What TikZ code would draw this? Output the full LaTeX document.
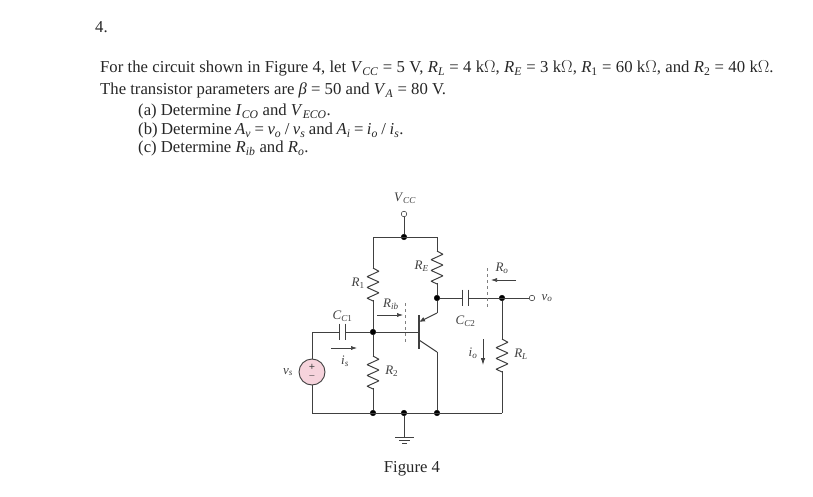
\documentclass[tikz,border=0pt]{standalone}
\usepackage{amsmath, amssymb}
\usepackage{fontspec}
\usepackage{circuitikz}
\usetikzlibrary{arrows.meta}
\setmainfont{Liberation Serif}
\newcommand{\vsub}[2]{\textit{#1}\textsubscript{\textit{#2}}}
\newcommand{\lsub}[2]{{\fontsize{13}{15}\selectfont\color{black!75}\vsub{#1}{#2}}}
\definecolor{srcpink}{HTML}{F6D3DC}
\tikzset{
  txt/.style={anchor=base west, inner sep=0pt, font=\fontsize{16.7}{19}\selectfont, text=black!85},
  lab/.style={inner sep=0pt, text=black!75},
  sign/.style={inner sep=0pt, font=\fontsize{11}{12}\selectfont, text=black!75},
  wire/.style={line width=1pt, color=black!75},
  thin arrow/.style={line width=0.6pt, color=black!75, -{Latex[length=6pt,width=4pt]}},
  probe/.style={line width=0.7pt, color=black!50, dashed}
}
\begin{document}
\begin{tikzpicture}[x=1pt, y=1pt, transform shape]
\useasboundingbox (0, 0) rectangle (813, 496);
\ctikzset{label/align = smart, bipoles/thickness = 1, nodes width = 0.07}
\ctikzset{bipoles/capacitor/width = 0.13, bipoles/capacitor/height = 0.42}
% problem text
\node[txt] (num) at (95, 463) {4.};
\node[txt] (line1) at (100, 423) {\spaceskip=0.26em For the circuit shown in Figure 4, let \vsub{V}{CC} = 5 V, \vsub{R}{L} = 4 k$\Omega$, \vsub{R}{E} = 3 k$\Omega$, \vsub{R}{\upshape 1} = 60 k$\Omega$, and \vsub{R}{\upshape 2} = 40 k$\Omega$.};
\node[txt] (line2) at (100, 401) {The transistor parameters are \textit{β} = 50 and \vsub{V}{A} = 80 V.};
\node[txt] (parta) at (138, 380) {(a) Determine \vsub{I}{CO} and \vsub{V}{ECO}.};
\node[txt] (partb) at (138, 361) {\spaceskip=0.21em (b) Determine \vsub{A}{v} = \vsub{v}{o} / \vsub{v}{s} and \vsub{A}{i} = \vsub{i}{o} / \vsub{i}{s}.};
\node[txt] (partc) at (138, 343) {(c) Determine \vsub{R}{ib} and \vsub{R}{o}.};
% junctions
\node[ocirc] (vcc) at (404, 282) {};
\node[circ] (top) at (404, 259) {};
\coordinate (topl) at (373, 259);
\coordinate (topr) at (437, 259);
\node[circ] (emit) at (437, 198) {};
\node[circ] (base) at (373, 164) {};
\coordinate (barb) at (419, 164);
\coordinate (barh) at (419, 181);
\coordinate (barl) at (419, 147);
\coordinate (emitk) at (437, 183);
\coordinate (emitb) at (419, 174);
\coordinate (collb) at (419, 156);
\coordinate (collk) at (437, 144);
\coordinate (srct) at (312, 164);
\coordinate (srcb) at (312, 83);
\node[circ] (railm) at (373, 83) {};
\node[circ] (railg) at (404, 83) {};
\node[circ] (railc) at (437, 83) {};
\coordinate (railr) at (502, 83);
\node[circ] (outj) at (502, 198) {};
\coordinate (capr) at (494, 198);
\node[ocirc] (out) at (532, 198) {};
\node[circle, draw=black!75, line width=0.9pt, fill=srcpink, minimum size=26pt, inner sep=0pt] (src) at (312, 124) {};
\node[sign] (srcp) at (312, 129) {\textbf{+}};
\node[sign] (srcm) at (312, 118) {−};
% circuit
\draw[wire] (vcc) -- (top);
\draw[wire] (topl) -- (topr);
\draw[wire] (topl) to [R, l_=\lsub{R}{\upshape 1}] (base);
\draw[wire] (topr) to [R, l_=\lsub{R}{E}] (emit);
\draw[wire] (base) to [R, l^=\hspace*{4pt}\lsub{R}{\upshape 2}] (railm);
\draw[wire] (outj) to [R, l^=\hspace*{4pt}\lsub{R}{L}] (railr);
\draw[wire] (srct) to [C, l=\smash{\lsub{C}{C\upshape 1}}] (base);
\draw[wire] (base) -- (barb);
\draw[wire] (emit) to [C, l_=\rule{0pt}{16pt}\lsub{C}{C\upshape 2}] (capr);
\draw[wire] (capr) -- (out);
\draw[wire] (src) -- (srct);
\draw[wire] (src) -- (srcb);
\draw[wire] (srcb) -- (railr);
% transistor
\draw[wire, line width=1.4pt] (barh) -- (barl);
\draw[wire] (emit) -- (emitk);
\draw[wire, -{Latex[length=6pt,width=5pt]}] (emitk) -- (emitb);
\draw[wire] (collb) -- (collk);
\draw[wire] (collk) -- (railc);
% ground
\coordinate (gnd) at (404, 59);
\coordinate (gnd1l) at (395, 59);
\coordinate (gnd1r) at (414, 59);
\coordinate (gnd2l) at (399, 56);
\coordinate (gnd2r) at (410, 56);
\coordinate (gnd3l) at (402, 53);
\coordinate (gnd3r) at (407, 53);
\draw[wire] (railg) -- (gnd);
\draw[wire] (gnd1l) -- (gnd1r);
\draw[wire] (gnd2l) -- (gnd2r);
\draw[wire] (gnd3l) -- (gnd3r);
% probes and arrows
\coordinate (ribt) at (405, 193);
\coordinate (ribb) at (405, 154);
\draw[probe] (ribt) -- (ribb);
\coordinate (rot) at (487, 228);
\coordinate (rob) at (487, 189);
\draw[probe] (rot) -- (rob);
\coordinate (riba) at (377, 181);
\coordinate (ribz) at (403, 181);
\draw[thin arrow] (riba) -- (ribz);
\coordinate (roa) at (516, 216);
\coordinate (roz) at (491, 216);
\draw[thin arrow] (roa) -- (roz);
\coordinate (isa) at (331, 148);
\coordinate (isz) at (357, 148);
\draw[thin arrow] (isa) -- (isz);
\coordinate (ioa) at (483, 157);
\coordinate (ioz) at (483, 131);
\draw[wire, line width=0.8pt, -{Latex[length=7pt,width=4.5pt]}] (ioa) -- (ioz);
% labels
\node[lab] (vcclab) at (405, 298) {\lsub{V}{CC}};
\node[lab] (riblab) at (391, 192) {\lsub{R}{ib}};
\node[lab] (rolab) at (502, 228) {\lsub{R}{o}};
\node[lab] (volab) at (547, 198) {\lsub{v}{o}};
\node[lab] (islab) at (345, 135) {\lsub{i}{s}};
\node[lab] (iolab) at (473, 143) {\lsub{i}{o}};
\node[lab] (vslab) at (288, 124) {\lsub{v}{s}};
\node[txt, anchor=base] (figlab) at (412, 24) {Figure 4};
\end{tikzpicture}
\end{document}
